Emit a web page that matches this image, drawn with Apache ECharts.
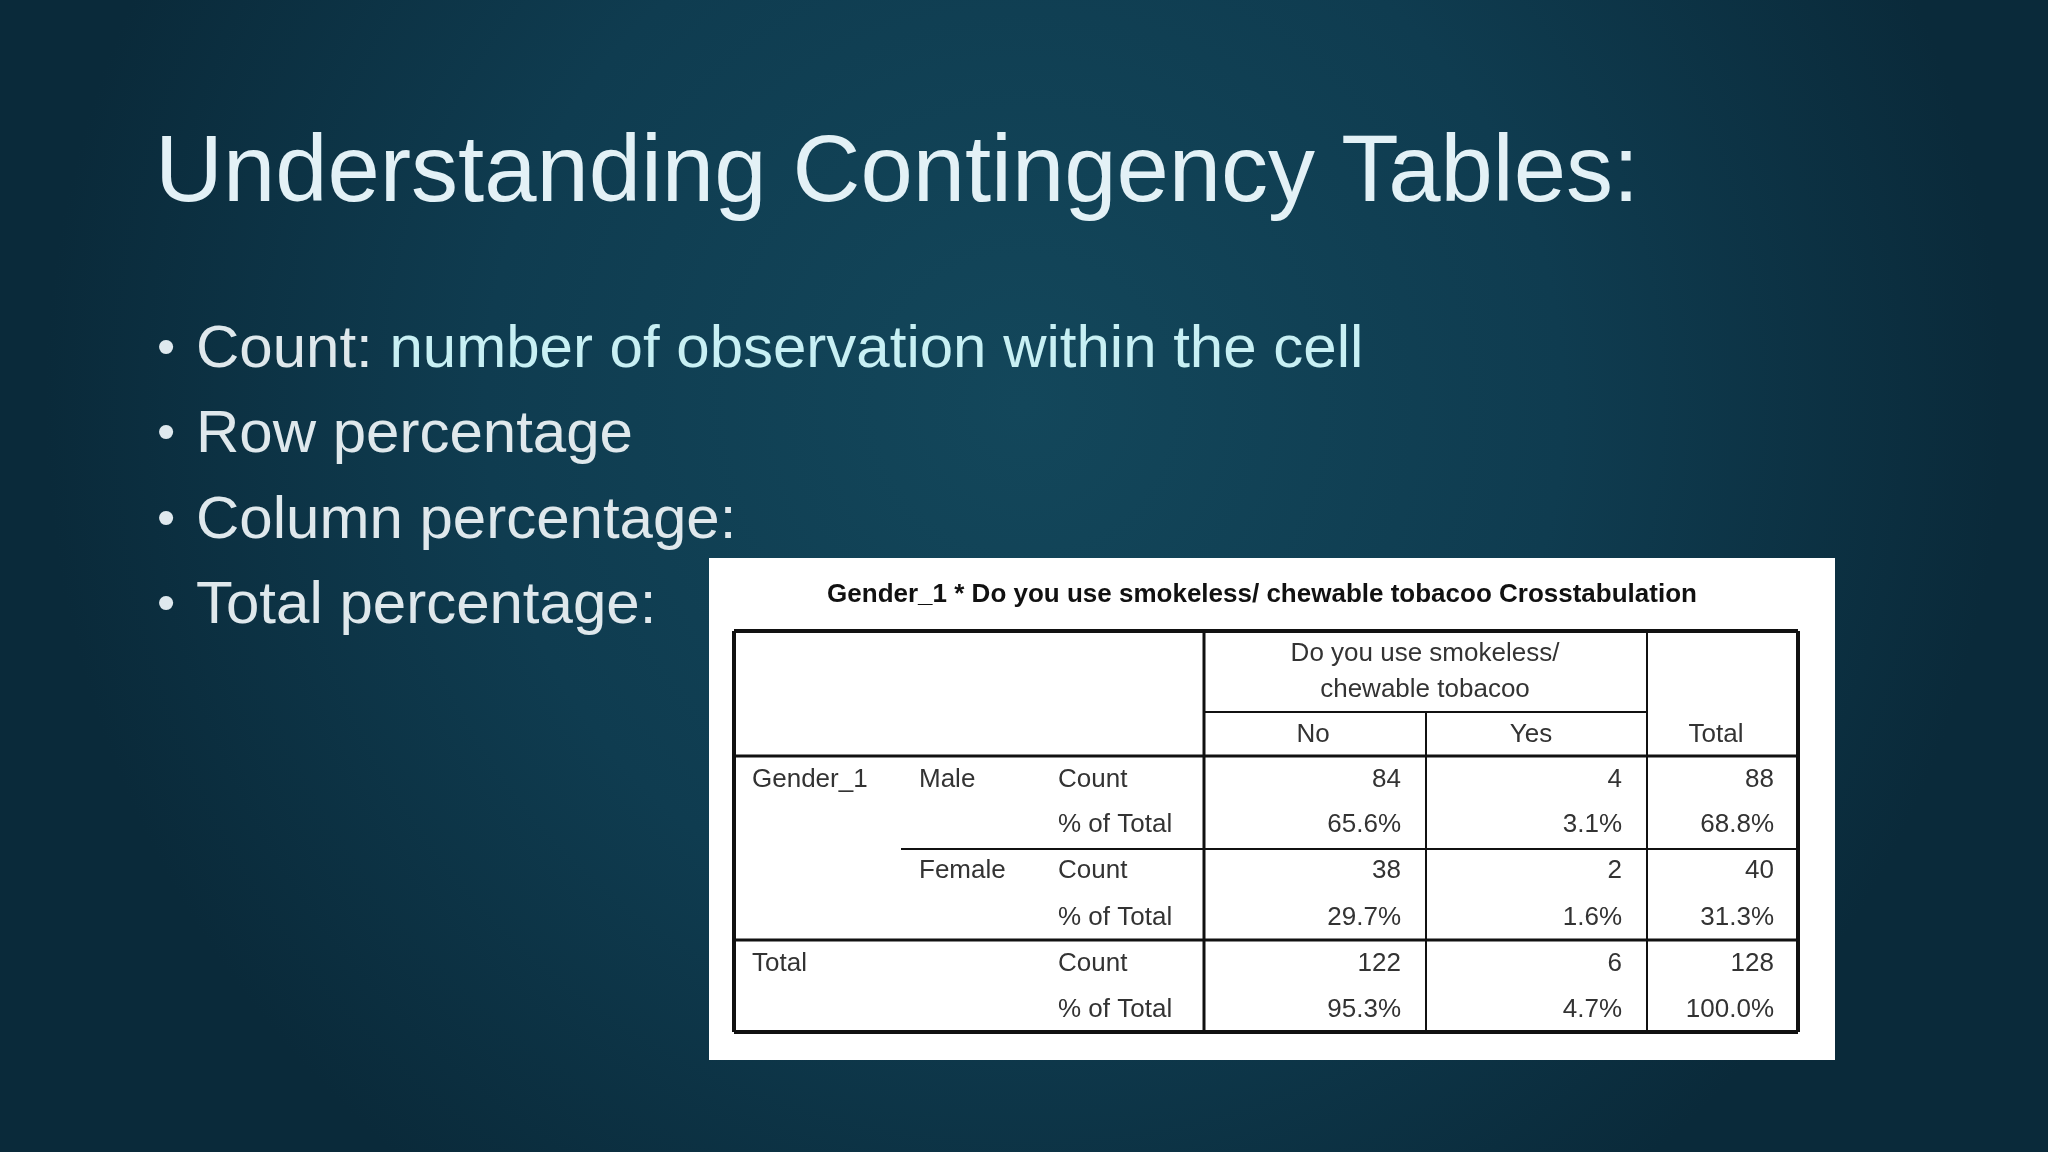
<!DOCTYPE html>
<html><head><meta charset="utf-8">
<script src="https://cdn.jsdelivr.net/npm/echarts@6/dist/echarts.min.js"></script>
<style>html,body{margin:0;padding:0;background:#0b2d3e}#c{width:2048px;height:1152px}</style>
</head><body><div id="c"></div>
<script>
const slideTitle = 'Understanding Contingency Tables:';
const bullets = [
  ['Count:', ' number of observation within the cell'],
  ['Row percentage', ''],
  ['Column percentage:', ''],
  ['Total percentage:', '']
];
const tableTitle = 'Gender_1 * Do you use smokeless/ chewable tobacoo Crosstabulation';
const colHeader = ['Do you use smokeless/', 'chewable tobacoo'];
const columns = ['No', 'Yes', 'Total'];
const groups = ['Male', 'Female', 'Total'];
const stats = ['Count', '% of Total'];
const countNo = [84, 38, 122];
const countYes = [4, 2, 6];
const countTotal = [88, 40, 128];
const pctNo = ['65.6%', '29.7%', '95.3%'];
const pctYes = ['3.1%', '1.6%', '4.7%'];
const pctTotal = ['68.8%', '31.3%', '100.0%'];

const chart = echarts.init(document.getElementById('c'));
const F = '"Liberation Sans", Arial, sans-serif';
const g = [];
g.push({type:'rect', shape:{x:0,y:0,width:2048,height:1152}, style:{fill:{type:'radial',x:0.5,y:0.35,r:0.85,colorStops:[{offset:0,color:'#13475b'},{offset:0.55,color:'#0f3c50'},{offset:1,color:'#0a2a3a'}]}}});
g.push({type:'text', left:155, top:128, style:{text:slideTitle, font:'94px "Liberation Sans", Arial, sans-serif', fill:'#e3f1f6'}});
const by = [350, 435, 521, 606];
bullets.forEach((b, i) => {
  g.push({type:'text', x:157, y:by[i], style:{text:'•', font:'52px "Liberation Sans", Arial', fill:'#dfe9ee', verticalAlign:'middle'}});
  g.push({type:'text', x:196, y:by[i], style:{text:'{a|' + b[0] + '}{b|' + b[1] + '}', verticalAlign:'middle', rich:{
    a:{font:'60px "Liberation Sans", Arial, sans-serif', fill:'#dfe8ec'},
    b:{font:'60px "Liberation Sans", Arial, sans-serif', fill:'#c8f0f4'}}}});
});
g.push({type:'rect', shape:{x:709,y:558,width:1126,height:502}, style:{fill:'#ffffff'}});
g.push({type:'text', x:1262, y:595, style:{text:tableTitle, font:'bold 26px '+F, fill:'#111', align:'center', verticalAlign:'middle'}});
const L = (x1,y1,x2,y2,w) => g.push({type:'line', shape:{x1,y1,x2,y2}, style:{stroke:'#111', lineWidth:w}});
L(734,631,1798,631,4); L(734,1032,1798,1032,4); L(734,631,734,1032,4); L(1798,631,1798,1032,4);
L(1204,631,1204,1032,3); L(1426,712,1426,1032,2); L(1647,631,1647,1032,2);
L(1204,712,1647,712,2); L(734,756,1798,756,3); L(901,849,1798,849,2); L(734,940,1798,940,3);
const T = (t,x,y,al) => g.push({type:'text', x, y, style:{text:t, font:'26px '+F, fill:'#333', align:al||'left', verticalAlign:'middle'}});
T(colHeader[0],1425,654,'center'); T(colHeader[1],1425,690,'center');
T(columns[0],1313,735,'center'); T(columns[1],1531,735,'center'); T(columns[2],1716,735,'center');
const ry = [780, 825, 871, 918, 964, 1010];
T('Gender_1',752,ry[0]); T(groups[0],919,ry[0]); T(groups[1],919,ry[2]); T(groups[2],752,ry[4]);
for (let k = 0; k < 3; k++) {
  T(stats[0],1058,ry[2*k]); T(stats[1],1058,ry[2*k+1]);
  T(String(countNo[k]),1401,ry[2*k],'right'); T(String(countYes[k]),1622,ry[2*k],'right'); T(String(countTotal[k]),1774,ry[2*k],'right');
  T(pctNo[k],1401,ry[2*k+1],'right'); T(pctYes[k],1622,ry[2*k+1],'right'); T(pctTotal[k],1774,ry[2*k+1],'right');
}
chart.setOption({animation:false, graphic:{elements:g}});
</script></body></html>
